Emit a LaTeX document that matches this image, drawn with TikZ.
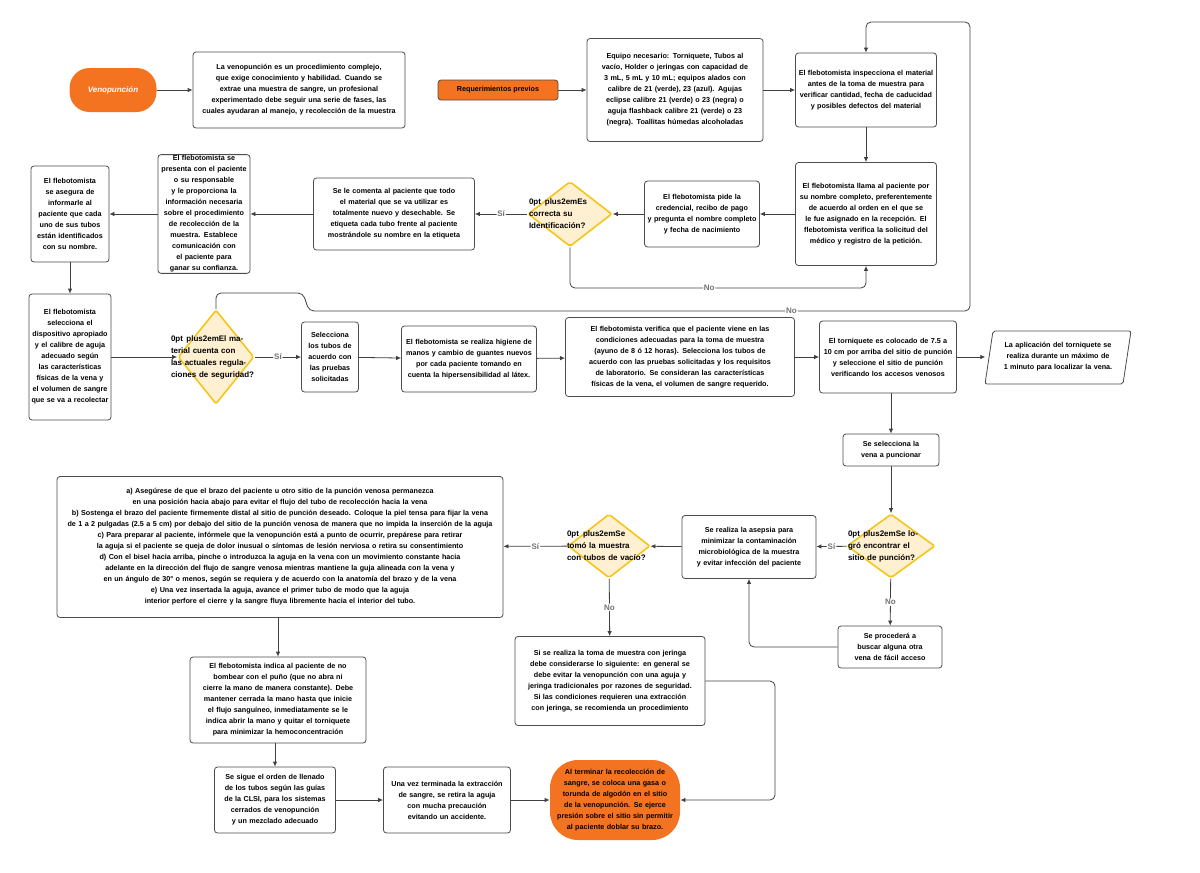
\documentclass[tikz,border=0pt]{standalone}
\usepackage{fontspec}
\setmainfont{Liberation Sans}
\usetikzlibrary{arrows.meta,shapes.geometric}
\definecolor{orng}{HTML}{F47321}
\definecolor{dfill}{HTML}{FFF0D2}
\definecolor{dedge}{HTML}{F5C518}
\newcommand{\myfnt}{\fontsize{7.2}{11}\selectfont\bfseries\hyphenpenalty=10000\relax}
\tikzset{
  box/.style={draw=black!70, line width=0.8pt, rounded corners=3pt, fill=white, align=center, inner sep=1pt, font=\myfnt},
  dia/.style={draw=dedge, line width=1.6pt, fill=dfill, diamond, inner sep=0pt, rounded corners=2pt},
  dtext/.style={align=center, inner sep=0pt, font=\fontsize{8}{12}\selectfont\bfseries\hyphenpenalty=10000\relax},
  con/.style={draw=black!75, line width=0.8pt, -{Latex[length=5pt,width=4.5pt]}, rounded corners=5pt},
  lbl/.style={fill=white, text=black!55, inner sep=1pt, font=\fontsize{8}{10}\selectfont\bfseries},
}
\begin{document}
\begin{tikzpicture}[x=1pt,y=-1pt]
\useasboundingbox (0,0) rectangle (1200,873);
% nodes
\node[box, draw=none, fill=orng, rounded corners=20pt, minimum width=87, minimum height=44, text=white, font=\fontsize{8}{10}\selectfont\bfseries\itshape] (veno) at (113,90) {Venopunción};
\node[box, minimum width=212, minimum height=76, text width=206] (intro) at (299,90) {La venopunción es un procedimiento complejo, que exige conocimiento y habilidad. Cuando se extrae una muestra de sangre, un profesional experimentado debe seguir una serie de fases, las cuales ayudaran al manejo, y recolección de la muestra};
\node[box, fill=orng, minimum width=120, minimum height=20] (req) at (498,90) {Requerimientos previos};
\node[box, minimum width=176, minimum height=103, text width=170] (equipo) at (675,90) {Equipo necesario: Torniquete, Tubos al vacío, Holder o jeringas con capacidad de 3 mL, 5 mL y 10 mL; equipos alados con calibre de 21 (verde), 23 (azul). Agujas eclipse calibre 21 (verde) o 23 (negra) o aguja flashback calibre 21 (verde) o 23 (negra). Toallitas húmedas alcoholadas};
\node[box, minimum width=141, minimum height=74, text width=135] (insp) at (866,90) {El flebotomista inspecciona el material antes de la toma de muestra para verificar cantidad, fecha de caducidad y posibles defectos del material};
\node[box, minimum width=141, minimum height=103, text width=135] (llama) at (866,214) {El flebotomista llama al paciente por su nombre completo, preferentemente de acuerdo al orden en el que se le fue asignado en la recepción. El flebotomista verifica la solicitud del médico y registro de la petición.};
\node[box, minimum width=115, minimum height=66, text width=109] (pide) at (702,214) {El flebotomista pide la credencial, recibo de pago y pregunta el nombre completo y fecha de nacimiento};
\node[dia, minimum width=84, minimum height=65] (d1) at (570,214) {};
\node[dtext, text width=82] at (d1) {Es correcta su Identificación?};
\node[box, minimum width=161, minimum height=72, text width=155] (comenta) at (394,214) {Se le comenta al paciente que todo el material que se va utilizar es totalmente nuevo y desechable. Se etiqueta cada tubo frente al paciente mostrándole su nombre en la etiqueta};
\node[box, minimum width=92, minimum height=115, text width=90] (presenta) at (204,214) {El flebotomista se presenta con el paciente o su responsable y le proporciona la información necesaria sobre el procedimiento de recolección de la muestra. Establece comunicación con el paciente para ganar su confianza.};
\node[box, minimum width=78, minimum height=96, text width=74] (asegura) at (70,214) {El flebotomista se asegura de informarle al paciente que cada uno de sus tubos están identificados con su nombre.};
\node[box, minimum width=82, minimum height=126, text width=80] (seldisp) at (70,357) {El flebotomista selecciona el dispositivo apropiado y el calibre de aguja adecuado según las características físicas de la vena y el volumen de sangre que se va a recolectar};
\node[dia, minimum width=76, minimum height=94] (d2) at (216,357) {};
\node[dtext, text width=90] at (d2) {El material cuenta con las actuales regulaciones de seguridad?};
\node[box, minimum width=57, minimum height=70, text width=55] (tubos) at (330,357) {Selecciona los tubos de acuerdo con las pruebas solicitadas};
\node[box, minimum width=135, minimum height=66, text width=129] (higiene) at (469,359) {El flebotomista se realiza higiene de manos y cambio de guantes nuevos por cada paciente tomando en cuenta la hipersensibilidad al látex.};
\node[box, minimum width=229, minimum height=79, text width=223] (verifica) at (680,357) {El flebotomista verifica que el paciente viene en las condiciones adecuadas para la toma de muestra (ayuno de 8 ó 12 horas). Selecciona los tubos de acuerdo con las pruebas solicitadas y los requisitos de laboratorio. Se consideran las características físicas de la vena, el volumen de sangre requerido.};
\node[box, minimum width=137, minimum height=72, text width=131] (torn) at (888,357) {El torniquete es colocado de 7.5 a 10 cm por arriba del sitio de punción y seleccione el sitio de punción verificando los accesos venosos};
\node[minimum width=145, minimum height=53, inner sep=0pt] (aplic) at (1058,357) {};
\draw[draw=black!70, line width=0.8pt, rounded corners=2pt] (985,384) -- (993,331) -- (1131,331) -- (1123,384) -- cycle;
\node[align=center, text width=140, font=\myfnt] at (aplic) {La aplicación del torniquete se realiza durante un máximo de 1 minuto para localizar la vena.};
\node[box, minimum width=96, minimum height=32, text width=90] (vena) at (891,450) {Se selecciona la vena a puncionar};
\node[dia, minimum width=88, minimum height=64] (d3) at (891,546) {};
\node[dtext, text width=86] at (d3) {Se logró encontrar el sitio de punción?};
\node[box, minimum width=134, minimum height=63, text width=128] (asep) at (749,547) {Se realiza la asepsia para minimizar la contaminación microbiológica de la muestra y evitar infección del paciente};
\node[dia, minimum width=82, minimum height=64] (d4) at (609,546) {};
\node[dtext, text width=84] at (d4) {Se tomó la muestra con tubos de vacío?};
\node[box, minimum width=104, minimum height=42, text width=98] (proc) at (890,647) {Se procederá a buscar alguna otra vena de fácil acceso};
\node[box, minimum width=446, minimum height=141, text width=440] (big) at (280,547) {a) Asegúrese de que el brazo del paciente u otro sitio de la punción venosa permanezca en una posición hacia abajo para evitar el flujo del tubo de recolección hacia la vena\\ b) Sostenga el brazo del paciente firmemente distal al sitio de punción deseado. Coloque la piel tensa para fijar la vena de 1 a 2 pulgadas (2.5 a 5 cm) por debajo del sitio de la punción venosa de manera que no impida la inserción de la aguja\\ c) Para preparar al paciente, infórmele que la venopunción está a punto de ocurrir, prepárese para retirar la aguja si el paciente se queja de dolor inusual o síntomas de lesión nerviosa o retira su consentimiento\\ d) Con el bisel hacia arriba, pinche o introduzca la aguja en la vena con un movimiento constante hacia adelante en la dirección del flujo de sangre venosa mientras mantiene la guja alineada con la vena y en un ángulo de 30° o menos, según se requiera y de acuerdo con la anatomía del brazo y de la vena\\ e) Una vez insertada la aguja, avance el primer tubo de modo que la aguja interior perfore el cierre y la sangre fluya libremente hacia el interior del tubo.};
\node[box, minimum width=190, minimum height=89, text width=180] (jer) at (610,681) {Si se realiza la toma de muestra con jeringa debe considerarse lo siguiente: en general se debe evitar la venopunción con una aguja y jeringa tradicionales por razones de seguridad. Si las condiciones requieren una extracción con jeringa, se recomienda un procedimiento};
\node[box, minimum width=176, minimum height=86, text width=170] (indica) at (278,700) {El flebotomista indica al paciente de no bombear con el puño (que no abra ni cierre la mano de manera constante). Debe mantener cerrada la mano hasta que inicie el flujo sanguíneo, inmediatamente se le indica abrir la mano y quitar el torniquete para minimizar la hemoconcentración};
\node[box, minimum width=121, minimum height=66, text width=115] (orden) at (275,800) {Se sigue el orden de llenado de los tubos según las guías de la CLSI, para los sistemas cerrados de venopunción y un mezclado adecuado};
\node[box, minimum width=127, minimum height=66, text width=121] (term) at (447,800) {Una vez terminada la extracción de sangre, se retira la aguja con mucha precaución evitando un accidente.};
\node[box, draw=none, fill=orng, rounded corners=28pt, minimum width=130, minimum height=80, text width=124] (fin) at (615,800) {Al terminar la recolección de sangre, se coloca una gasa o torunda de algodón en el sitio de la venopunción. Se ejerce presión sobre el sitio sin permitir al paciente doblar su brazo.};
% connectors
\draw[con] (veno) -- (intro);
\draw[con] (req) -- (equipo);
\draw[con] (equipo) -- (insp);
\draw[con] (insp) -- (llama);
\draw[con] (llama) -- (pide);
\draw[con] (pide) -- (d1);
\draw[con] (d1) -- node[lbl]{Sí} (comenta);
\draw[con] (comenta) -- (presenta);
\draw[con] (presenta) -- (asegura);
\draw[con] (asegura) -- (seldisp);
\draw[con] (d1.south) -- (570,288) -- node[lbl, pos=0.47]{No} (866,288) -- (llama.south);
\draw[con] (seldisp) -- (d2);
\draw[con] (d2) -- node[lbl]{Sí} (tubos);
\draw[con] (d2.north) -- (216,293) -- (303,293) -- (309,311) -- node[lbl, pos=0.73]{No} (970,311) -- (970,22) -- (866,22) -- (insp.north);
\draw[con] (tubos) -- (higiene);
\draw[con] (higiene) -- (verifica);
\draw[con] (verifica) -- (torn);
\draw[con] (torn) -- (aplic.west);
\draw[con] (torn.south -| vena.north) -- (vena.north);
\draw[con] (vena) -- (d3);
\draw[con] (d3) -- node[lbl]{Sí} (asep);
\draw[con] (d3) -- node[lbl]{No} (proc);
\draw[con] (proc.west) -| (asep.south);
\draw[con] (asep) -- (d4);
\draw[con] (d4) -- node[lbl]{Sí} (big);
\draw[con] (d4) -- node[lbl]{No} (jer);
\draw[con] (big.south -| indica.north) -- (indica.north);
\draw[con] (indica.south -| orden.north) -- (orden.north);
\draw[con] (orden) -- (term);
\draw[con] (term) -- (fin);
\draw[con] (jer.east) -- (775,681) -- (775,800) -- (fin.east);
\end{tikzpicture}
\end{document}
